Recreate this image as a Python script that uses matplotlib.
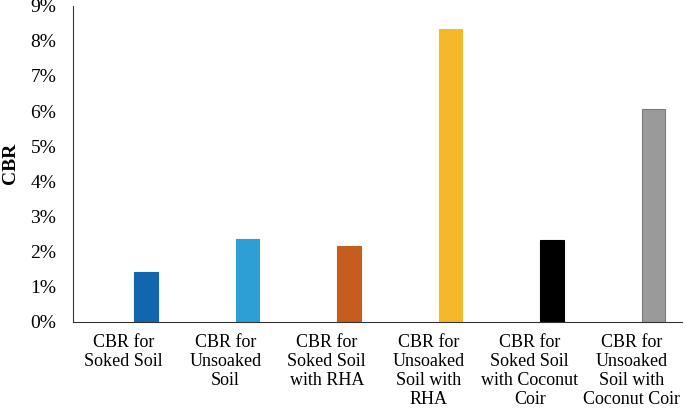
import matplotlib.pyplot as plt
from matplotlib.ticker import PercentFormatter

categories = ["CBR for\nSoked Soil", "CBR for\nUnsoaked\nSoil", "CBR for\nSoked Soil\nwith RHA",
              "CBR for\nUnsoaked\nSoil with\nRHA", "CBR for\nSoked Soil\nwith Coconut\nCoir",
              "CBR for\nUnsoaked\nSoil with\nCoconut Coir"]
cbr = [1.42, 2.36, 2.16, 8.34, 2.33, 6.06]
colors = ['#1166ad', '#2e9fd5', '#c55d1f', '#f5b82a', '#000000', '#9a9a9a']
edges = ['#1166ad', '#2e9fd5', '#c55d1f', '#f5b82a', '#000000', '#7a7a7a']

plt.rcParams['font.family'] = 'Liberation Serif'

fig = plt.figure(figsize=(6.85, 4.08), dpi=100)
ax = fig.add_axes([0.1066, 0.2115, 0.889, 0.7743])

x = list(range(len(categories)))
ax.bar([i + 0.22 for i in x], cbr, width=0.23, color=colors, edgecolor=edges, linewidth=0.8)

ax.set_xlim(-0.5, 5.5)
ax.set_ylim(0, 9)
ax.set_yticks(range(0, 10))
ax.yaxis.set_major_formatter(PercentFormatter(decimals=0))
ax.set_xticks(x)
ax.set_xticklabels(categories, fontsize=13, linespacing=1.15)
ax.tick_params(axis='y', labelsize=14, length=0, pad=12)
ax.tick_params(axis='x', length=0, pad=9)

for s in ['top', 'right']:
    ax.spines[s].set_visible(False)
ax.spines['left'].set_color('#333333')
ax.spines['bottom'].set_color('#333333')

ax.set_ylabel('CBR', fontsize=14, fontweight='bold')
ax.yaxis.set_label_coords(-0.088, 0.5)

fig.savefig('out.png', dpi=100)
